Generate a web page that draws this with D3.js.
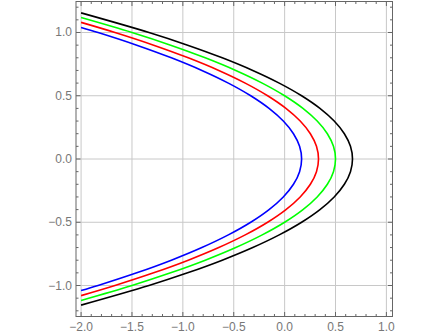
<!DOCTYPE html>
<html>
<head>
<meta charset="utf-8">
<script src="https://cdn.jsdelivr.net/npm/d3@7"></script>
<style>
  body { margin: 0; background: #fff; }
  .tick-label { font-family: "Liberation Sans", Arial, sans-serif; font-size: 12px; fill: #777; }
</style>
</head>
<body>
<div id="chart"></div>
<script>
// values
const blueY  = [-1.04, -1.0, -0.9, -0.8, -0.7, -0.6, -0.5, -0.4, -0.3, -0.2, -0.1, 0, 0.1, 0.2, 0.3, 0.4, 0.5, 0.6, 0.7, 0.8, 0.9, 1.0, 1.04];
const blueX  = [-2.0, -1.833, -1.453, -1.113, -0.813, -0.553, -0.333, -0.153, -0.013, 0.087, 0.147, 0.167, 0.147, 0.087, -0.013, -0.153, -0.333, -0.553, -0.813, -1.113, -1.453, -1.833, -2.0];
const redY   = [-1.08, -1.0, -0.9, -0.8, -0.7, -0.6, -0.5, -0.4, -0.3, -0.2, -0.1, 0, 0.1, 0.2, 0.3, 0.4, 0.5, 0.6, 0.7, 0.8, 0.9, 1.0, 1.08];
const redX   = [-2.0, -1.667, -1.287, -0.947, -0.647, -0.387, -0.167, 0.013, 0.153, 0.253, 0.313, 0.333, 0.313, 0.253, 0.153, 0.013, -0.167, -0.387, -0.647, -0.947, -1.287, -1.667, -2.0];
const greenY = [-1.118, -1.0, -0.9, -0.8, -0.7, -0.6, -0.5, -0.4, -0.3, -0.2, -0.1, 0, 0.1, 0.2, 0.3, 0.4, 0.5, 0.6, 0.7, 0.8, 0.9, 1.0, 1.118];
const greenX = [-2.0, -1.5, -1.12, -0.78, -0.48, -0.22, 0.0, 0.18, 0.32, 0.42, 0.48, 0.5, 0.48, 0.42, 0.32, 0.18, 0.0, -0.22, -0.48, -0.78, -1.12, -1.5, -2.0];
const blackY = [-1.155, -1.0, -0.9, -0.8, -0.7, -0.6, -0.5, -0.4, -0.3, -0.2, -0.1, 0, 0.1, 0.2, 0.3, 0.4, 0.5, 0.6, 0.7, 0.8, 0.9, 1.0, 1.155];
const blackX = [-2.0, -1.333, -0.953, -0.613, -0.313, -0.053, 0.167, 0.347, 0.487, 0.587, 0.647, 0.667, 0.647, 0.587, 0.487, 0.347, 0.167, -0.053, -0.313, -0.613, -0.953, -1.333, -2.0];

const xMajor = [-2.0, -1.5, -1.0, -0.5, 0.0, 0.5, 1.0];
const yMajor = [-1.0, -0.5, 0.0, 0.5, 1.0];
const xMinor = [-1.9, -1.8, -1.7, -1.6, -1.4, -1.3, -1.2, -1.1, -0.9, -0.8, -0.7, -0.6, -0.4, -0.3, -0.2, -0.1, 0.1, 0.2, 0.3, 0.4, 0.6, 0.7, 0.8, 0.9];
const yMinor = [-1.2, -1.1, -0.9, -0.8, -0.7, -0.6, -0.4, -0.3, -0.2, -0.1, 0.1, 0.2, 0.3, 0.4, 0.6, 0.7, 0.8, 0.9, 1.1, 1.2];

const series = [
  {x: blueX, y: blueY, color: "#0000ff"},
  {x: redX, y: redY, color: "#ff0000"},
  {x: greenX, y: greenY, color: "#00ff00"},
  {x: blackX, y: blackY, color: "#000000"}
];

const width = 444, height = 333;
const frame = {left: 76, right: 392.5, top: 1.5, bottom: 316.5};

const xScale = d3.scaleLinear().domain([-2.05, 1.06]).range([frame.left, frame.right]);
const yScale = d3.scaleLinear().domain([-1.245, 1.245]).range([frame.bottom, frame.top]);

const svg = d3.select("#chart").append("svg")
    .attr("width", width)
    .attr("height", height);

// grid lines
svg.selectAll(".gx")
    .data(xMajor)
    .enter()
    .append("line")
    .attr("x1", d => xScale(d)).attr("x2", d => xScale(d))
    .attr("y1", frame.top).attr("y2", frame.bottom)
    .attr("stroke", "#c8c8c8").attr("stroke-width", 1);

svg.selectAll(".gy")
    .data(yMajor)
    .enter()
    .append("line")
    .attr("x1", frame.left).attr("x2", frame.right)
    .attr("y1", d => yScale(d)).attr("y2", d => yScale(d))
    .attr("stroke", "#c8c8c8").attr("stroke-width", 1);

// curves
const line = d3.line()
    .x(d => xScale(d[0]))
    .y(d => yScale(d[1]))
    .curve(d3.curveCatmullRom);

series.forEach(s => {
  const pts = s.x.map((v, i) => [v, s.y[i]]);
  svg.append("path")
      .datum(pts)
      .attr("fill", "none")
      .attr("stroke", s.color)
      .attr("stroke-width", 1.6)
      .attr("d", line);
});

// frame
svg.append("rect")
    .attr("x", frame.left).attr("y", frame.top)
    .attr("width", frame.right - frame.left).attr("height", frame.bottom - frame.top)
    .attr("fill", "none")
    .attr("stroke", "#666")
    .attr("stroke-width", 1);

// ticks on all four sides
function xTicks(vals, len) {
  vals.forEach(v => {
    const px = xScale(v);
    svg.append("line").attr("x1", px).attr("x2", px).attr("y1", frame.bottom).attr("y2", frame.bottom - len)
        .attr("stroke", "#666");
    svg.append("line").attr("x1", px).attr("x2", px).attr("y1", frame.top).attr("y2", frame.top + len)
        .attr("stroke", "#666");
  });
}
function yTicks(vals, len) {
  vals.forEach(v => {
    const py = yScale(v);
    svg.append("line").attr("x1", frame.left).attr("x2", frame.left + len).attr("y1", py).attr("y2", py)
        .attr("stroke", "#666");
    svg.append("line").attr("x1", frame.right).attr("x2", frame.right - len).attr("y1", py).attr("y2", py)
        .attr("stroke", "#666");
  });
}
xTicks(xMajor, 4.5);
xTicks(xMinor, 2.5);
yTicks(yMajor, 4.5);
yTicks(yMinor, 2.5);

const fmt = d => d3.format(".1f")(d).replace("-", "\u2212");

svg.selectAll(".xl")
    .data(xMajor)
    .enter()
    .append("text")
    .attr("class", "tick-label")
    .attr("x", d => xScale(d))
    .attr("y", 331)
    .attr("text-anchor", "middle")
    .text(fmt);

svg.selectAll(".yl")
    .data(yMajor)
    .enter()
    .append("text")
    .attr("class", "tick-label")
    .attr("x", 72)
    .attr("y", d => yScale(d) + 4)
    .attr("text-anchor", "end")
    .text(fmt);
</script>
</body>
</html>
